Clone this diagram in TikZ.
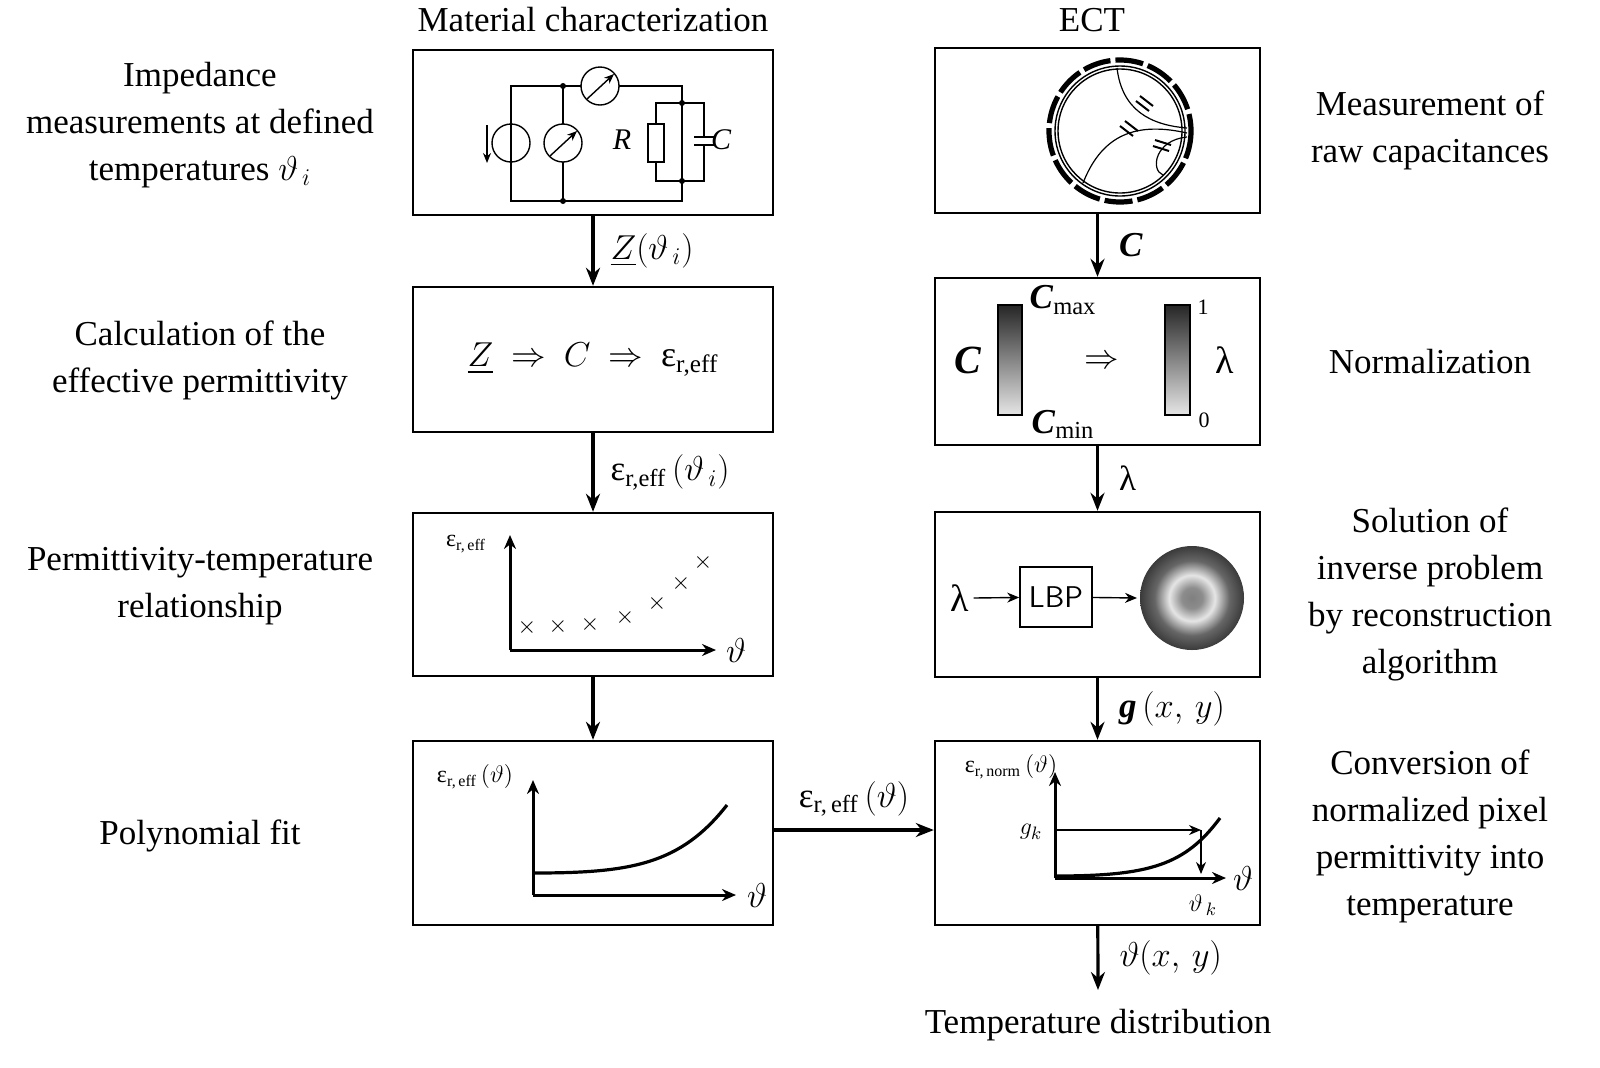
\documentclass[tikz,border=0pt]{standalone}
\usepackage{amsmath,amssymb}
\usepackage{fontspec}
\setmainfont{Liberation Serif}
\usetikzlibrary{arrows.meta}
\newcommand{\bC}{\textbf{\textit{C}}}
\newcommand{\bg}{\textbf{\textit{g}}}
\begin{document}
\begin{tikzpicture}[x=0.5pt,y=-0.5pt,
  box/.style={draw,line width=1.2pt},
  arr/.style={-{Stealth[length=9pt,width=7pt]},line width=1.6pt},
  sarr/.style={-{Stealth[length=6pt,width=5pt]},line width=0.7pt},
  ax/.style={-{Stealth[length=7pt,width=6pt]},line width=1.5pt},
  txt/.style={font=\fontsize{17.5}{23.5}\selectfont,align=center,inner sep=0pt},
  lab/.style={font=\fontsize{17.5}{20}\selectfont,inner sep=0pt},
  sm/.style={font=\fontsize{11}{13}\selectfont,inner sep=0pt},
  wire/.style={line width=0.7pt},
  dot/.style={circle,fill,inner sep=0pt,minimum size=3pt}]
\pgfdeclareradialshading{recon}{\pgfpoint{0bp}{0bp}}{color(0bp)=(black!50);color(5bp)=(black!45);color(11bp)=(black!10);color(18bp)=(black!60);color(27bp)=(black!82);color(50bp)=(black!82)}
% boxes
\node[box,minimum width=180pt,minimum height=82.5pt] (L1) at (593,132.5) {};
\node[box,minimum width=180pt,minimum height=72.5pt] (L2) at (593,359.5) {};
\node[box,minimum width=180pt,minimum height=81.5pt] (L3) at (593,594.5) {};
\node[box,minimum width=180pt,minimum height=92pt] (L4) at (593,833) {};
\node[box,minimum width=162.5pt,minimum height=82.5pt] (R1) at (1097.5,130.5) {};
\node[box,minimum width=162.5pt,minimum height=83.5pt] (R2) at (1097.5,361.5) {};
\node[box,minimum width=162.5pt,minimum height=82.5pt] (R3) at (1097.5,594.5) {};
\node[box,minimum width=162.5pt,minimum height=92pt] (R4) at (1097.5,833) {};
% headings
\node[txt] (h1) at (593,20) {Material characterization};
\node[txt] (h2) at (1092,20) {ECT};
\node[txt] (s1) at (200,125) {Impedance\\measurements at defined\\temperatures $\vartheta_{\,i}$};
\node[txt] (s2) at (200,360) {Calculation of the\\effective permittivity};
\node[txt] (s3) at (200,586) {Permittivity-temperature\\relationship};
\node[txt] (s4) at (200,836) {Polynomial fit};
\node[txt] (t1) at (1430,130) {Measurement of\\raw capacitances};
\node[txt] (t2) at (1430,362) {Normalization};
\node[txt] (t3) at (1430,594) {Solution of\\inverse problem\\by reconstruction\\algorithm};
\node[txt] (t4) at (1430,836) {Conversion of\\normalized pixel\\permittivity into\\temperature};
\coordinate (end) at (1098,990);
\node[txt] (t5) at (1098,1025) {Temperature distribution};
% vertical arrows
\draw[arr] (L1) -- (L2) node[midway,right=8pt,lab] {$\underline{Z}(\vartheta_{\,i})$};
\draw[arr] (L2) -- (L3) node[midway,right=8pt,lab] {ε\textsubscript{r,eff}\,$(\vartheta_{\,i})$};
\draw[arr] (L3) -- (L4);
\draw[arr] (R1) -- (R2) node[midway,right=10pt,lab] {\bC};
\draw[arr] (R2) -- (R3) node[midway,right=10pt,lab] {λ};
\draw[arr] (R3) -- (R4) node[midway,right=10pt,lab] {\bg\,$(x,\,y)$};
\draw[arr] (R4) -- (end) node[midway,right=10pt,lab] {$\vartheta(x,\,y)$};
\draw[arr] (L4.east |- 0,830) -- (R4.west |- 0,830) node[midway,above=6pt,lab] {ε\textsubscript{r,\,eff}\,$(\vartheta)$};
% circuit
\draw[wire] (511,86) rectangle (682,201);
\draw[wire] (563,86) -- (563,201);
\draw[wire] (656,103) rectangle (704,181);
\node[dot] at (563,86) {}; \node[dot] at (563,201) {};
\node[dot] at (682,103) {}; \node[dot] at (682,181) {};
\draw[wire,fill=white] (511,143) circle (9.5pt);
\draw[wire,fill=white] (563,143) circle (9.5pt);
\draw[wire,fill=white] (600,86) circle (9.5pt);
\draw[wire] (511,124) -- (511,162);
\draw[wire,-{Stealth[length=5pt,width=4pt]}] (550,156) -- (577,131);
\draw[wire,-{Stealth[length=5pt,width=4pt]}] (587,99) -- (614,74);
\draw[wire,-{Stealth[length=5pt,width=4pt]}] (487,125) -- (487,163);
\draw[wire,fill=white] (648,124) rectangle (664,162);
\draw[fill=white,draw=white] (694,137) rectangle (714,145);
\draw[wire] (694,137) -- (714,137) (694,145) -- (714,145);
\node[lab,font=\fontsize{15}{18}\selectfont\itshape] at (622,140) {R};
\node[lab,font=\fontsize{15}{18}\selectfont\itshape] at (721,140) {C};
% ECT sensor
\draw[line width=2.6pt,dash pattern=on 14pt off 2.5pt] (1120,131) circle (71);
\draw[line width=0.7pt] (1120,131) circle (65);
\draw[line width=0.7pt] (1120,131) circle (62);
\draw[line width=0.6pt] (1117,68) .. controls (1122,110) and (1150,125) .. (1187,128);
\draw[line width=0.6pt] (1083,183) .. controls (1100,140) and (1130,120) .. (1187,133);
\draw[line width=0.6pt] (1163,175) .. controls (1150,170) and (1155,140) .. (1187,137);
\draw[line width=1pt] (1136,101) -- (1149,111) (1140,96) -- (1153,106);
\draw[line width=1pt] (1120,126) -- (1133,136) (1125,121) -- (1138,131);
\draw[line width=1pt] (1153,146) -- (1169,151) (1155,140) -- (1171,145);
% effective permittivity
\node[lab,font=\fontsize{18}{20}\selectfont] at (593,360) {$\underline{Z}$ ~$\Rightarrow$~ $C$ ~$\Rightarrow$~ ε\textsubscript{r,eff}};
% normalization
\shade[top color=black!85,bottom color=black!10,draw=black,line width=0.8pt] (998,305) rectangle (1022,415);
\shade[top color=black!85,bottom color=black!10,draw=black,line width=0.8pt] (1165,305) rectangle (1190,415);
\node[lab,font=\fontsize{20}{22}\selectfont] at (968,360) {\bC};
\node[lab] at (1063,300) {\bC\textsubscript{max}};
\node[lab] at (1063,424) {\bC\textsubscript{min}};
\node[lab] at (1102,362) {$\Rightarrow$};
\node[sm] at (1203,307) {1};
\node[sm] at (1204,420) {0};
\node[lab,font=\fontsize{19}{22}\selectfont] at (1225,360) {λ};
% LBP
\node[lab,font=\fontsize{19}{22}\selectfont] (lam) at (960,598) {λ};
\node[draw,line width=0.8pt,minimum width=36pt,minimum height=30pt,font=\sffamily\fontsize{15}{17}\selectfont,inner sep=0pt] (lbp) at (1056,597) {LBP};
\begin{scope}
\clip (1192,598) circle (26pt);
\shade[shading=recon] (1192,598) circle (26pt);
\end{scope}
\coordinate (rec) at (1137,598);
\draw[sarr] (lam.east) ++(4,0) -- (lbp);
\draw[sarr] (lbp) -- (rec);
% permittivity-temperature plot
\draw[ax] (510,650) -- (510,535);
\draw[ax] (510,650) -- (716,650);
\node[sm,font=\fontsize{12}{14}\selectfont] at (466,544) {ε\textsubscript{r,\,eff}};
\node[lab] at (736,650) {$\vartheta$};
\foreach \x/\y in {527/627,558/626,590/624,625/617,657/603,681/583,703/562}
  \node[lab,font=\fontsize{12}{14}\selectfont] at (\x,\y) {$\times$};
% polynomial fit
\draw[ax] (533,895) -- (533,780);
\draw[ax] (533,895) -- (736,895);
\draw[line width=1.6pt] (533,873) .. controls (630,873) and (680,865) .. (727,805);
\node[sm,font=\fontsize{12}{14}\selectfont] at (475,777) {ε\textsubscript{r,\,eff}\,$(\vartheta)$};
\node[lab] at (757,895) {$\vartheta$};
% conversion
\draw[ax] (1055,878) -- (1055,772);
\draw[ax] (1055,878) -- (1226,878);
\draw[line width=1.6pt] (1055,876) .. controls (1150,876) and (1185,865) .. (1220,818);
\draw[sarr] (1055,830) -- (1201,830);
\draw[sarr] (1201,830) -- (1201,874);
\node[sm,font=\fontsize{12}{14}\selectfont] at (1011,767) {ε\textsubscript{r,\,norm}\,$(\vartheta)$};
\node[sm,font=\fontsize{13}{14}\selectfont] at (1031,832) {$g_k$};
\node[sm,font=\fontsize{13}{14}\selectfont] at (1203,905) {$\vartheta_{\,k}$};
\node[lab] at (1243,878) {$\vartheta$};
\pgfresetboundingbox
\useasboundingbox (0,0) rectangle (1600,1067);
\end{tikzpicture}
\end{document}
